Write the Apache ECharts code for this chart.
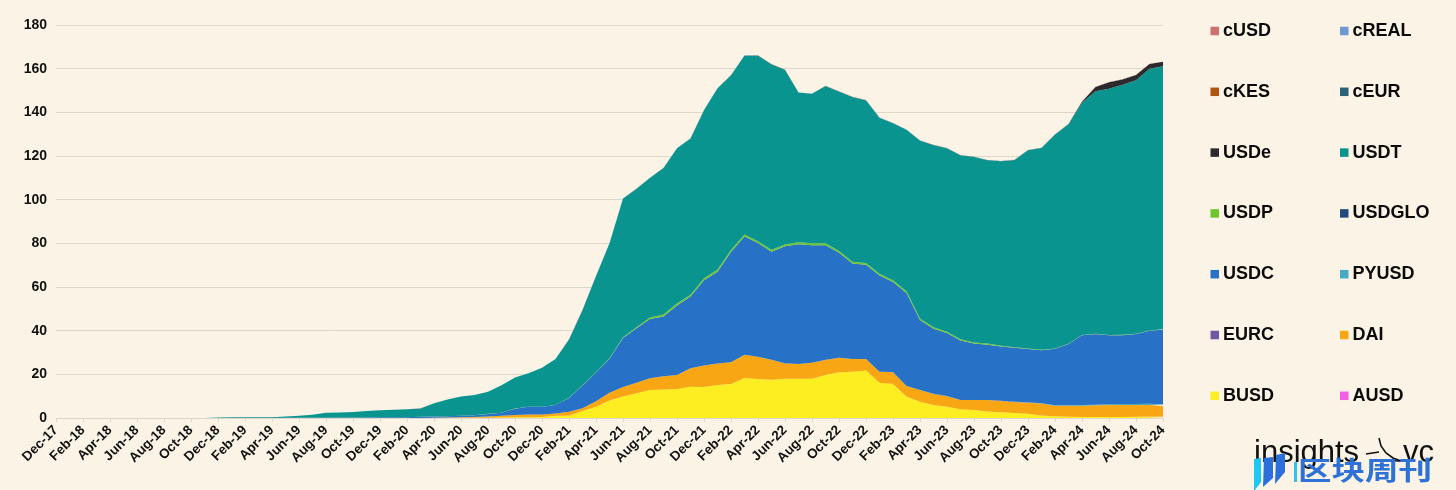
<!DOCTYPE html>
<html><head><meta charset="utf-8">
<style>html,body{margin:0;padding:0;background:#FBF3E5}#c{width:1456px;height:490px}</style>
<script src="https://cdn.jsdelivr.net/npm/echarts@6/dist/echarts.min.js"></script>
</head><body><div id="c"></div>
<script>
const months = [
'Dec-17','Jan-18','Feb-18','Mar-18','Apr-18','May-18','Jun-18','Jul-18','Aug-18','Sep-18',
'Oct-18','Nov-18','Dec-18','Jan-19','Feb-19','Mar-19','Apr-19','May-19','Jun-19','Jul-19',
'Aug-19','Sep-19','Oct-19','Nov-19','Dec-19','Jan-20','Feb-20','Mar-20','Apr-20','May-20',
'Jun-20','Jul-20','Aug-20','Sep-20','Oct-20','Nov-20','Dec-20','Jan-21','Feb-21','Mar-21',
'Apr-21','May-21','Jun-21','Jul-21','Aug-21','Sep-21','Oct-21','Nov-21','Dec-21','Jan-22',
'Feb-22','Mar-22','Apr-22','May-22','Jun-22','Jul-22','Aug-22','Sep-22','Oct-22','Nov-22',
'Dec-22','Jan-23','Feb-23','Mar-23','Apr-23','May-23','Jun-23','Jul-23','Aug-23','Sep-23',
'Oct-23','Nov-23','Dec-23','Jan-24','Feb-24','Mar-24','Apr-24','May-24','Jun-24','Jul-24',
'Aug-24','Sep-24','Oct-24'];
const yTicks = [0,20,40,60,80,100,120,140,160,180];

const BUSD = [
0,0,0,0,0,0,0,0,0,0,
0,0,0,0,0,0,0,0,0,0,
0,0,0,0,0,0,0,0,0,0,
.1,.1,.15,.2,.3,.4,.5,1,1,3.2,
5.2,8,9.8,11.3,12.8,13,13.3,14.3,14.2,15.1,
15.6,18.3,17.9,17.5,18,18,18,19.7,21,21.2,
21.7,16.2,15.6,9.8,7.5,6,5.2,4,3.7,3,
2.6,2.3,1.9,1.2,.8,.6,.5,.5,.5,.5,
.6,.6,.5];
const AUSD = [
0,0,0,0,0,0,0,0,0,0,
0,0,0,0,0,0,0,0,0,0,
0,0,0,0,0,0,0,0,0,0,
0,0,0,0,0,0,0,0,0,0,
0,0,0,0,0,0,0,0,0,0,
0,0,0,0,0,0,0,0,0,0,
0,0,0,0,0,0,0,0,0,0,
0,0,0,0,0,0,0,0,0,.01,
.02,.03,.05];
const DAI = [
0,0,0,0,0,0,0,0,0,0,
0,0,0,0,0,0,0,0,0,0,
0,0,0,0,0,0,0,0,.1,.2,
.3,.4,.55,.8,1.1,1.2,1.1,1.1,1.9,1.3,
2.5,3.6,4.4,4.9,5.4,6.1,6.4,8.5,9.8,9.9,
9.9,10.7,10.1,9.2,7,6.7,7.3,6.9,6.6,5.8,
5.3,5,5.4,4.8,5.3,5,4.8,4.2,4.5,5.2,
5.2,5,5.1,5.4,4.8,5,5.1,5.3,5.4,5.4,
5.3,5.3,4.9];
const EURC = [
0,0,0,0,0,0,0,0,0,0,
0,0,0,0,0,0,0,0,0,0,
0,0,0,0,0,0,0,0,0,0,
0,0,0,0,0,0,0,0,0,0,
0,0,0,0,0,0,0,0,0,0,
0,0,0,.01,.02,.03,.03,.03,.04,.04,
.04,.04,.05,.05,.05,.05,.05,.05,.05,.05,
.05,.05,.05,.05,.05,.05,.06,.06,.06,.06,
.07,.07,.07];
const PYUSD = [
0,0,0,0,0,0,0,0,0,0,
0,0,0,0,0,0,0,0,0,0,
0,0,0,0,0,0,0,0,0,0,
0,0,0,0,0,0,0,0,0,0,
0,0,0,0,0,0,0,0,0,0,
0,0,0,0,0,0,0,0,0,0,
0,0,0,0,0,0,0,0,.02,.05,
.08,.1,.12,.15,.2,.2,.25,.25,.35,.4,
.45,.55,.65];
const USDC = [
0,0,0,0,0,0,0,0,0,0,
0,0,.02,.02,.03,.04,.05,.07,.1,.12,
.15,.18,.2,.25,.3,.35,.4,.6,.6,.6,
.6,.8,1.15,1.35,2.85,3.55,3.55,3.8,6.3,10.35,
13.1,15.5,22.4,24.9,27.1,27.4,31.8,32.8,39.1,42,
50.5,54.1,52.1,49.4,53.6,54.9,53.8,52.5,48.1,43.7,
43.2,44,41.2,42.6,32,29.8,28.9,27.3,25.8,25.3,
24.8,24.7,24.4,24.2,25.85,28.05,32,32.3,31.6,31.55,
32,33.4,34.3];
const USDGLO = [
0,0,0,0,0,0,0,0,0,0,
0,0,0,0,0,0,0,0,0,0,
0,0,0,0,0,0,0,0,0,0,
0,0,0,0,0,0,0,0,0,0,
0,0,0,0,0,0,0,0,0,0,
0,0,0,0,0,0,0,0,0,0,
0,0,0,0,0,0,0,0,0,0,
.01,.01,.01,.01,.01,.01,.01,.01,.01,.01,
.01,.01,.01];
const USDP = [
0,0,0,0,0,0,0,0,0,0,
0,0,0,0,0,0,0,0,0,0,
0,0,0,0,0,0,0,0,0,0,
0,0,.05,.05,.05,.05,.05,.1,.1,.15,
.2,.3,.4,.5,.7,.9,1,.9,.9,1,
1,.9,.9,.9,.9,.9,.9,.9,.8,.8,
.8,.8,.8,.8,.7,.7,.6,.5,.5,.5,
.4,.3,.3,.2,.15,.15,.15,.15,.15,.15,
.15,.15,.15];
const USDT = [
0,0,0,0,0,0,0,0,0,0,
0,.05,.25,.3,.3,.3,.25,.6,.9,1.35,
2.25,2.3,2.6,3,3.2,3.4,3.6,3.8,6,7.7,
8.8,9.2,10.1,12.6,14.2,15.3,17.8,21,26.7,34.5,
44,52.6,63.5,63.4,64,67.1,71,71.5,77,83,
80,82,85,85,80,68.5,68.5,72,73,75.5,
74.5,71.5,72,74,81.5,83.5,84,84.3,85,84,
84.5,85.7,90.8,92.5,98,100.5,106.3,111.1,112.7,114.5,
116.1,119.8,120.5];
const USDe = [
0,0,0,0,0,0,0,0,0,0,
0,0,0,0,0,0,0,0,0,0,
0,0,0,0,0,0,0,0,0,0,
0,0,0,0,0,0,0,0,0,0,
0,0,0,0,0,0,0,0,0,0,
0,0,0,0,0,0,0,0,0,0,
0,0,0,0,0,0,0,0,0,0,
0,0,0,0,0,.05,.5,1.9,3,2.5,
2.4,2.2,2];
const cEUR = [
0,0,0,0,0,0,0,0,0,0,
0,0,0,0,0,0,0,0,0,0,
0,0,0,0,0,0,0,0,0,0,
0,0,0,0,0,0,0,0,.01,.02,
.03,.03,.03,.03,.03,.03,.03,.03,.03,.03,
.03,.03,.03,.03,.03,.03,.03,.03,.03,.03,
.03,.03,.03,.03,.03,.03,.03,.03,.03,.03,
.03,.03,.03,.03,.03,.03,.03,.03,.03,.03,
.03,.03,.03];
const cKES = [
0,0,0,0,0,0,0,0,0,0,
0,0,0,0,0,0,0,0,0,0,
0,0,0,0,0,0,0,0,0,0,
0,0,0,0,0,0,0,0,0,0,
0,0,0,0,0,0,0,0,0,0,
0,0,0,0,0,0,0,0,0,0,
0,0,0,0,0,0,0,0,0,0,
0,0,0,0,0,0,.01,.01,.01,.01,
.01,.01,.01];
const cREAL = [
0,0,0,0,0,0,0,0,0,0,
0,0,0,0,0,0,0,0,0,0,
0,0,0,0,0,0,0,0,0,0,
0,0,0,0,0,0,0,0,0,0,
0,0,0,0,0,0,0,0,0,0,
0,0,.01,.01,.01,.01,.01,.01,.01,.01,
.01,.01,.01,.01,.01,.01,.01,.01,.01,.01,
.01,.01,.01,.01,.01,.01,.01,.01,.01,.01,
.01,.01,.01];
const cUSD = [
0,0,0,0,0,0,0,0,0,0,
0,0,0,0,0,0,0,0,0,0,
0,0,0,0,0,0,0,.01,.01,.01,
.01,.01,.02,.02,.02,.03,.03,.03,.03,.05,
.05,.05,.05,.05,.05,.05,.05,.05,.05,.05,
.05,.05,.05,.05,.05,.05,.05,.05,.05,.05,
.05,.05,.05,.05,.05,.05,.05,.05,.05,.05,
.05,.05,.05,.05,.05,.05,.05,.05,.05,.05,
.05,.05,.05];

const stackOrder = [
  ['BUSD',BUSD,'#FDEE21'],['AUSD',AUSD,'#F35FE2'],['DAI',DAI,'#F9A615'],
  ['EURC',EURC,'#7059A0'],['PYUSD',PYUSD,'#48A9C5'],['USDC',USDC,'#2771C6'],
  ['USDGLO',USDGLO,'#234A7C'],['USDP',USDP,'#6CC62D'],['USDT',USDT,'#0A9490'],
  ['USDe',USDe,'#2D2A2E'],['cEUR',cEUR,'#2A6279'],['cKES',cKES,'#B4530F'],
  ['cREAL',cREAL,'#6F97D0'],['cUSD',cUSD,'#CF6F6F']];
const legendLeft = ['cUSD','cKES','USDe','USDP','USDC','EURC','BUSD'];
const legendRight = ['cREAL','cEUR','USDT','USDGLO','PYUSD','DAI','AUSD'];

const font = '"Liberation Sans", Arial, sans-serif';
const leg = (data,left)=>({
  data, left, top:22, orient:'vertical', icon:'rect', itemWidth:8.5, itemHeight:8.5,
  itemGap:42.8, selectedMode:false, padding:0,
  textStyle:{fontFamily:font,fontWeight:'bold',fontSize:18,color:'#0b0b0b',padding:[0,0,0,-1],lineHeight:18}
});

const chart = echarts.init(document.getElementById('c'),null,{renderer:'canvas'});
chart.setOption({
  animation:false,
  backgroundColor:'#FBF3E5',
  grid:{left:56,right:293,top:25,bottom:72,containLabel:false},
  legend:[leg(legendLeft,1210.5),leg(legendRight,1340)],
  xAxis:{
    type:'category',data:months,boundaryGap:false,
    axisLine:{show:true,lineStyle:{color:'#DDD7CC',width:1}},
    axisTick:{show:true,interval:1,length:4,lineStyle:{color:'#DDD7CC'}},
    axisLabel:{interval:1,rotate:45,margin:10,verticalAlign:'middle',fontFamily:font,fontWeight:'bold',fontSize:13.5,color:'#111',hideOverlap:false,showMinLabel:true,showMaxLabel:true},
    splitLine:{show:false}
  },
  yAxis:{
    type:'value',min:yTicks[0],max:yTicks[yTicks.length-1],interval:20,
    axisLine:{show:false},axisTick:{show:false},
    axisLabel:{margin:9,fontFamily:font,fontWeight:'bold',fontSize:14,color:'#111'},
    splitLine:{show:true,lineStyle:{color:'#DDD7CC',width:1}}
  },
  series:stackOrder.map(([name,data,color])=>({
    name,type:'line',stack:'total',data,
    showSymbol:false,symbol:'none',smooth:false,
    lineStyle:{width:0,color},itemStyle:{color},
    areaStyle:{color,opacity:1},
    emphasis:{disabled:true}
  })),
  graphic:[
    {type:'text',left:1254,top:438,style:{text:'insights',font:'31px "Liberation Sans"',fill:'#111'},z:10},
    {type:'text',left:1403,top:438,style:{text:'vc',font:'31px "Liberation Sans"',fill:'#111'},z:10},
    {type:'polyline',shape:{points:[[1379,438],[1381,446],[1386,453],[1393,458],[1401,461]]},style:{stroke:'#111',lineWidth:1.6,fill:'none'},z:10},
    {type:'polyline',shape:{points:[[1366,454],[1379,452]]},style:{stroke:'#111',lineWidth:1.6,fill:'none'},z:10},
    {type:'polyline',shape:{points:[[1372,460],[1400,461]]},style:{stroke:'#111',lineWidth:1.6,fill:'none'},z:10},
    {type:'polygon',shape:{points:[[1254,459],[1261,458],[1261,482],[1255,490],[1254,490]]},style:{fill:'#1EC8F5'},z:11},
    {type:'polygon',shape:{points:[[1264,458],[1273,457],[1273,478],[1263,487]]},style:{fill:'#2A6FDB'},z:11},
    {type:'polygon',shape:{points:[[1276,455],[1285,453],[1285,472],[1275,484]]},style:{fill:'#2A6FDB'},z:11},
    {type:'polygon',shape:{points:[[1294,462],[1297,462],[1297,482],[1294,482]]},style:{fill:'#2AC3EE'},z:11},
    {type:'text',x:1298,y:470.5,scaleY:0.78,originX:0,originY:0,style:{text:'区块周刊',x:0,y:0,verticalAlign:'middle',font:'bold 33.5px "Noto Sans CJK SC"',fill:'#2E72D8'},z:11}
  ]
});
</script></body></html>
